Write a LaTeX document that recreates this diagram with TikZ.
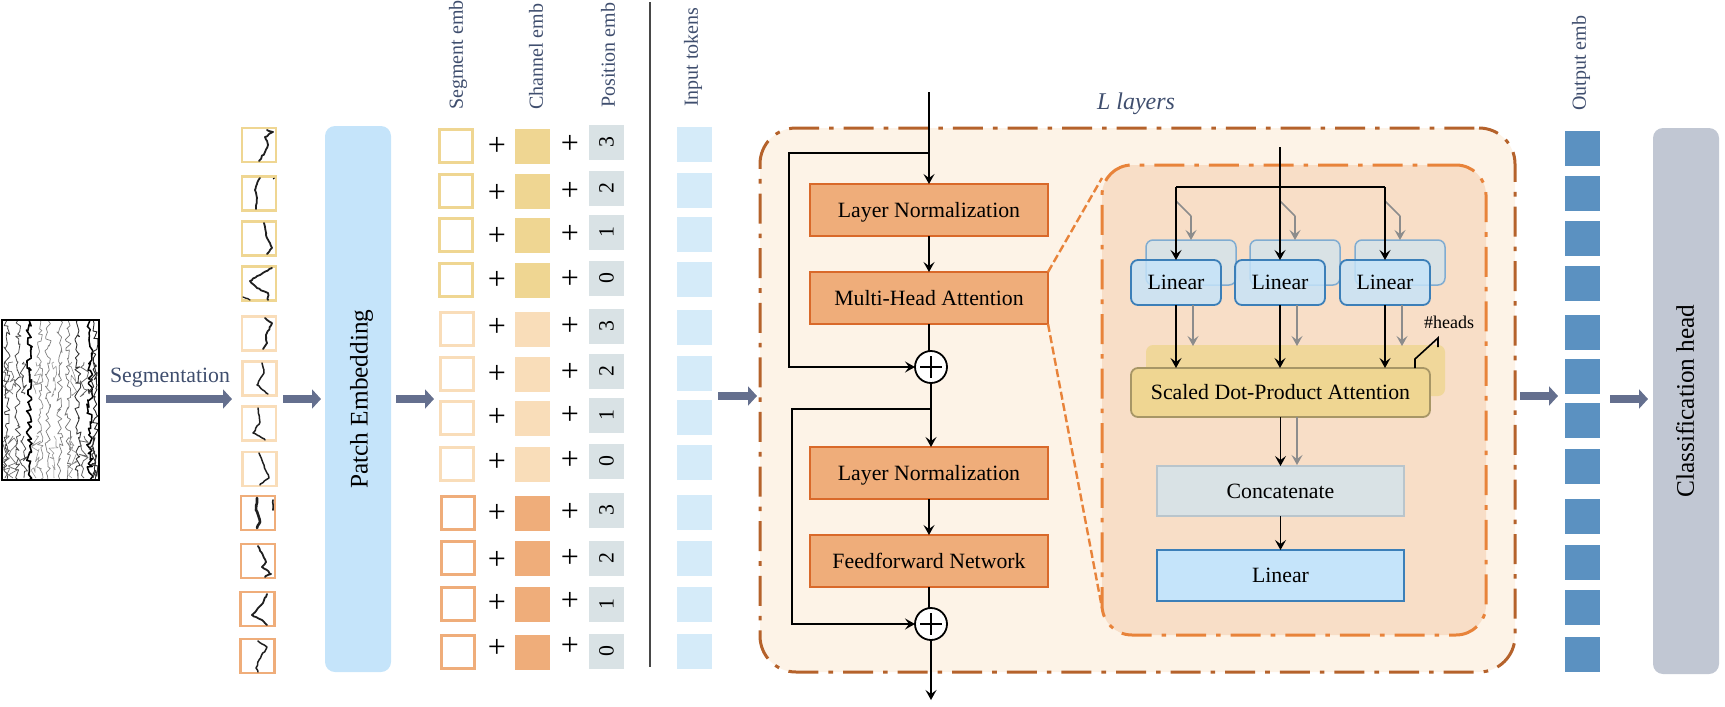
\documentclass[tikz,border=0pt]{standalone}
\usepackage{fontspec}
\setmainfont{Liberation Serif}
\usetikzlibrary{arrows.meta,decorations.pathmorphing}
\definecolor{inkblue}{HTML}{3F4E6E}
\definecolor{arrowslate}{HTML}{646F8E}
\definecolor{amber}{HTML}{EFD692}
\definecolor{peach}{HTML}{F9DDB9}
\definecolor{apricot}{HTML}{EFAD7A}
\definecolor{mist}{HTML}{D9E2E5}
\definecolor{mistedge}{HTML}{B9C5CC}
\definecolor{sky}{HTML}{D5EBF9}
\definecolor{skydeep}{HTML}{C5E4FA}
\definecolor{steel}{HTML}{5B91C1}
\definecolor{fog}{HTML}{C1C7D3}
\definecolor{shellfill}{HTML}{FDF3E7}
\definecolor{shelledge}{HTML}{B5622B}
\definecolor{corefill}{HTML}{F8DEC7}
\definecolor{coreedge}{HTML}{E8833A}
\definecolor{blockedge}{HTML}{D9692A}
\definecolor{lineedge}{HTML}{3C7FB8}
\tikzset{
  txt/.style={font=\fontsize{21.8}{24}\selectfont,text=black,text height=14.6,text depth=0pt},
  caption/.style={font=\fontsize{20}{22}\selectfont,text=inkblue,inner sep=0pt},
  cell/.style={minimum width=35,minimum height=35,inner sep=0pt,outer sep=0pt},
  hollow/.style={cell,minimum width=33,minimum height=33,draw=#1,line width=2.5,fill=white},
  solid/.style={cell,fill=#1},
  patchbox/.style={minimum width=34,minimum height=34,inner sep=0pt,outer sep=0pt,draw=#1,line width=2.5},
  posbox/.style={cell,fill=mist,font=\fontsize{21.8}{24}\selectfont},
  plus/.style={inner sep=0pt,font=\fontsize{32}{34}\selectfont},
  block/.style={txt,draw=blockedge,line width=1.8,fill=apricot,minimum width=238,minimum height=52,inner sep=0pt,outer sep=0pt},
  bar/.style={rounded corners=10,inner sep=0pt,outer sep=0pt,minimum width=66,minimum height=546,fill=#1},
  linfront/.style={txt,draw=lineedge,line width=1.8,fill=skydeep,fill opacity=.82,text opacity=1,rounded corners=7,minimum width=90,minimum height=45,inner sep=0pt,outer sep=0pt},
  linback/.style={draw=lineedge!65,line width=1.5,fill=mist,rounded corners=7,minimum width=90,minimum height=45,inner sep=0pt,outer sep=0pt},
  flow/.style={draw=black,line width=1.6,-{Stealth[length=10,width=11,inset=4]}},
  ghost/.style={draw=black!45,line width=1.6,-{Stealth[length=10,width=11,inset=4]}},
  plain/.style={draw=black,line width=1.6},
  slatearrow/.style={draw=arrowslate,line width=8,-{Triangle[length=9,width=19]}},
  addnode/.style={circle,draw=black,line width=1.8,fill=white,minimum size=32,inner sep=0pt,outer sep=0pt,
    path picture={\draw[line width=1.8] (path picture bounding box.west)++(5,0) -- ++(22,0);
                  \draw[line width=1.8] (path picture bounding box.north)++(0,-5) -- ++(0,-22);}},
  frame/.style={rounded corners=#1,line width=3,inner sep=0pt,outer sep=0pt},
  zoomline/.style={draw=coreedge,line width=2.4,dash pattern=on 8 off 3.5},
  wave/.style={line width=#1,draw=black,line join=round},
  trace/.style={draw=black!88,line width=1.8,line join=round,line cap=round,decorate,decoration={random steps,segment length=2.5,amplitude=0.6}},
}
\begin{document}
\begin{tikzpicture}[x=1pt,y=1pt,yscale=-1]
\useasboundingbox (0,0) rectangle (1725,707);

% recording: multichannel traces inside a black frame
\begin{scope}
  \clip (2,320) rectangle (99,480);
  \pgfmathsetseed{4711}
  \foreach \xx/\w/\g in {7/0.8/75,18/0.8/70,29/1.6/100,40/0.7/45,48/0.7/50,60/0.7/50,68/0.7/55,78/0.9/80,90/1.5/100,95/0.9/85}{
    \draw[wave=\w,black!\g,decorate,decoration={random steps,segment length=3,amplitude=3.2}] (\xx,320) -- (\xx,480);
  }
  \foreach \xx/\w/\g in {5/0.7/60,13/0.7/55,24/0.8/70,36/0.6/40,54/0.6/40,72/0.6/45,84/0.8/60,93/1/80}{
    \draw[wave=\w,black!\g,decorate,decoration={random steps,segment length=3,amplitude=5}] (\xx,362) -- (\xx,394);
    \draw[wave=\w,black!\g,decorate,decoration={random steps,segment length=3,amplitude=5}] (\xx,436) -- (\xx,478);
  }
\end{scope}
\node[draw=black,line width=2.2,minimum width=97,minimum height=160,inner sep=0,outer sep=0] (signal) at (50.5,400) {};

% segments cut from the recording
\foreach \n/\yy/\xx/\c in {1/145/259/amber,2/193.5/259/amber,3/238.5/259/amber,4/283.5/259/amber,
                           5/333.5/259/peach,6/378.5/259.5/peach,7/423.5/259/peach,8/469/259.5/peach,
                           9/513/258/apricot,10/561/258/apricot,11/609/257.5/apricot,12/656/257.5/apricot}{
  \node[patchbox=\c] (patch\n) at (\xx,\yy) {};
}
\pgfmathsetseed{207}
\draw[trace] (267,130)--(273,132)--(265,137)--(268,145)--(265,152)--(259,161);
\draw[trace] (260,178)--(257,184)--(255,190)--(257,198)--(256,209);
\draw[draw=black,line width=1.6] (273.5,178)--(274,179);
\draw[trace] (264,223)--(266,235)--(270,243)--(272,248)--(267,254);
\draw[trace] (272,268)--(260,275)--(250,281)--(257,288)--(268,293)--(268,300);
\draw[trace,line width=1.3] (243,297)--(250,300);
\draw[trace] (265,318)--(272,323)--(266,335)--(267,343)--(263,349);
\draw[trace,line width=1.5] (262,363)--(264,373)--(257,385)--(268,394);
\draw[trace,line width=1.5] (258,408)--(260,422)--(253,433)--(265,440);
\draw[trace,line width=1.5] (259,453)--(263,463)--(267,473)--(269,478)--(260,485);
\draw[trace,line width=2.6] (257,498)--(256,510)--(260,522)--(257,528);
\draw[trace,line width=1.6] (273,500)--(273,510);
\draw[trace] (258,546)--(266,562)--(262,567)--(271,574)--(265,577);
\draw[trace] (267,594)--(263,603)--(252,615)--(262,620)--(267,625);
\draw[trace,line width=1.5] (258,641)--(267,647)--(259,660)--(256,668)--(258,672);

% embedding bars
\node[bar=skydeep] (patchemb) at (358,399) {};
\node[rotate=90,font=\fontsize{25.3}{28}\selectfont,inner sep=0pt] (patchemblabel) at (361.5,399) {Patch Embedding};
\node[bar=fog] (clshead) at (1686,401) {};
\node[rotate=90,font=\fontsize{25.3}{28}\selectfont,inner sep=0pt] (clslabel) at (1685,401) {Classification head};

% column captions
\node[caption,rotate=90,anchor=west] (capseg) at (458,110) {Segment emb};
\node[caption,rotate=90,anchor=west] (capch) at (536,110) {Channel emb};
\node[caption,rotate=90,anchor=west] (cappos) at (608,108) {Position emb};
\node[caption,rotate=90,anchor=west] (capin) at (693,107) {Input tokens};
\node[caption,rotate=90,anchor=west] (capout) at (1581,111) {Output emb};
\node[caption,font=\fontsize{24}{26}\selectfont\itshape] (caplayers) at (1136,104) {L layers};
\node[caption,font=\fontsize{21.8}{24}\selectfont] (capsegm) at (170,378) {Segmentation};

% token table, one row per segment
\foreach \n/\ys/\yp/\yi/\yo/\ya/\yb/\sx/\c/\d in {
  1/146/142.5/144.5/148/146.5/144/456/amber/3,
  2/191/188.5/190.5/193.5/193/191/456/amber/2,
  3/235/232.5/234.5/238/236/234/456/amber/1,
  4/280/278/279.5/283/280/279/456/amber/0,
  5/329/326/327.5/332/327/326/457/peach/3,
  6/374/371.5/373/376/374/372/457/peach/2,
  7/418/415.5/417/420.5/417/415/457/peach/1,
  8/464/461/462.5/466/462/460/457/peach/0,
  9/513/510.5/512.5/516/513/512/458/apricot/3,
  10/558/558.5/558.5/562/560/558/458/apricot/2,
  11/604/604.5/604/607.5/603/601/458/apricot/1,
  12/652/651.5/651.5/654.5/648/646/458/apricot/0}{
  \node[hollow=\c] (seg\n) at (\sx,\ys) {};
  \node[solid=\c] (chan\n) at (532,\ys) {};
  \node[posbox] (pos\n) at (606.5,\yp) {\rotatebox{90}{\d}};
  \node[plus] (plusa\n) at (497,\ya) {+};
  \node[plus] (plusb\n) at (570,\yb) {+};
  \node[solid=sky] (tok\n) at (694,\yi) {};
  \node[solid=steel] (out\n) at (1582.5,\yo) {};
}
\coordinate (ruletop) at (650,2);
\coordinate (rulebot) at (650,667);
\draw[line width=2.4,draw=black!72] (ruletop) -- (rulebot);

% transformer layer container
\node[frame=36,draw=shelledge,fill=shellfill,dash pattern=on 30 off 10 on 4.6 off 10,dash phase=49.9,minimum width=755,minimum height=544] (shell) at (1137.5,400) {};
\node[frame=30,draw=coreedge,fill=corefill,dash pattern=on 30 off 10 on 4.6 off 10,dash phase=1.3,minimum width=384,minimum height=470] (core) at (1294,400) {};

% encoder blocks
\node[block] (ln1) at (929,210) {Layer Normalization};
\node[block] (mha) at (929,298) {Multi-Head Attention};
\node[block] (ln2) at (929,473) {Layer Normalization};
\node[block] (ffn) at (929,561) {Feedforward Network};
\node[addnode] (add1) at (931,367) {};
\node[addnode] (add2) at (931,624) {};

% lines that link the attention block to its expanded view
\coordinate (zoomtop) at (1102,178);
\coordinate (zoombot) at (1102,608);
\draw[zoomline] (mha.north east) -- (zoomtop);
\draw[zoomline] (mha.south east) -- (zoombot);

% encoder connectors
\coordinate (intop) at (929,92);
\coordinate (tapa) at (929,153);
\coordinate (tapb) at (931,409);
\coordinate (outend) at (931,700);
\coordinate (skipa) at (789,153);
\coordinate (skipb) at (792,409);
\draw[flow] (intop) -- (ln1.north);
\draw[flow] (ln1.south) -- (mha.north);
\draw[plain] (mha.south) -- (mha.south |- add1.north);
\draw[flow] (tapa) -- (skipa) |- (add1.west);
\draw[plain] (add1.south) -- (tapb);
\draw[flow] (tapb) -- (tapb |- ln2.north);
\draw[flow] (tapb) -- (skipb) |- (add2.west);
\draw[flow] (ln2.south) -- (ffn.north);
\draw[plain] (ffn.south) -- (ffn.south |- add2.north);
\draw[flow] (add2.south) -- (outend);

% multi-head attention detail
\node[fill=amber!85!corefill,rounded corners=7,minimum width=299,minimum height=51,inner sep=0,outer sep=0] (sdpaback) at (1295.5,370.5) {};
\foreach \n/\xx in {1/1176,2/1280,3/1385}{
  \pgfmathsetmacro{\bx}{\xx+15}
  \node[linback] (back\n) at (\bx,262.5) {};
  \coordinate (bend\n) at (\bx,216);
  \coordinate (graystart\n) at (\xx,201);
  \draw[line width=1.6,draw=black!45] (graystart\n) -- (bend\n);
  \draw[ghost] (bend\n) -- (back\n.north);
}
\foreach \n/\xx in {1/1176,2/1280,3/1385}{
  \node[linfront] (lin\n) at (\xx,282.5) {Linear};
}
\node[txt,draw=amber!70!black,line width=1.8,fill=amber,rounded corners=7,minimum width=299,minimum height=49,inner sep=0,outer sep=0] (sdpa) at (1280.5,392.5) {Scaled Dot-Product Attention};
\node[txt,draw=mistedge,line width=1.8,fill=mist,minimum width=247,minimum height=50,inner sep=0,outer sep=0] (concat) at (1280.5,491) {Concatenate};
\node[txt,draw=lineedge,line width=1.8,fill=skydeep,minimum width=247,minimum height=51,inner sep=0,outer sep=0] (linout) at (1280.5,575.5) {Linear};
\node[font=\fontsize{18}{20}\selectfont,inner sep=0pt] (heads) at (1449,322) {\#heads};

\coordinate (coretop) at (1280,147);
\coordinate (fanleft) at (1176,187);
\coordinate (fanright) at (1385,187);
\draw[flow] (coretop) -- (lin2.north);
\draw[plain] (fanleft) -- (fanright);
\draw[flow] (fanleft) -- (lin1.north);
\draw[flow] (fanright) -- (lin3.north);
\foreach \n/\gx in {1/1193,2/1297,3/1402}{
  \coordinate (graydown\n) at (\gx,305);
  \draw[ghost] (graydown\n) -- (\gx,346);
  \draw[flow] (lin\n.south) -- (lin\n.south |- sdpa.north);
}
\coordinate (graybelow) at (1297,417);
\draw[ghost] (graybelow) -- (1297,465);
\draw[flow] (sdpa.south) -- (concat.north);
\draw[flow] (concat.south) -- (linout.north);
\coordinate (hookend) at (1415,368);
\draw[plain,line join=miter] (hookend) -- (1415,359) -- (1438,338) -- (1438,347);

% block arrows between the stages
\coordinate (ba1s) at (106,399);  \coordinate (ba1e) at (232,399);
\coordinate (ba2s) at (283,399);  \coordinate (ba2e) at (321,399);
\coordinate (ba3s) at (396,399);  \coordinate (ba3e) at (434,399);
\coordinate (ba4s) at (718,396);  \coordinate (ba4e) at (757,396);
\coordinate (ba5s) at (1520,396); \coordinate (ba5e) at (1558,396);
\coordinate (ba6s) at (1610,399); \coordinate (ba6e) at (1648,399);
\foreach \n in {1,...,6}{ \draw[slatearrow] (ba\n s) -- (ba\n e); }
\end{tikzpicture}
\end{document}
